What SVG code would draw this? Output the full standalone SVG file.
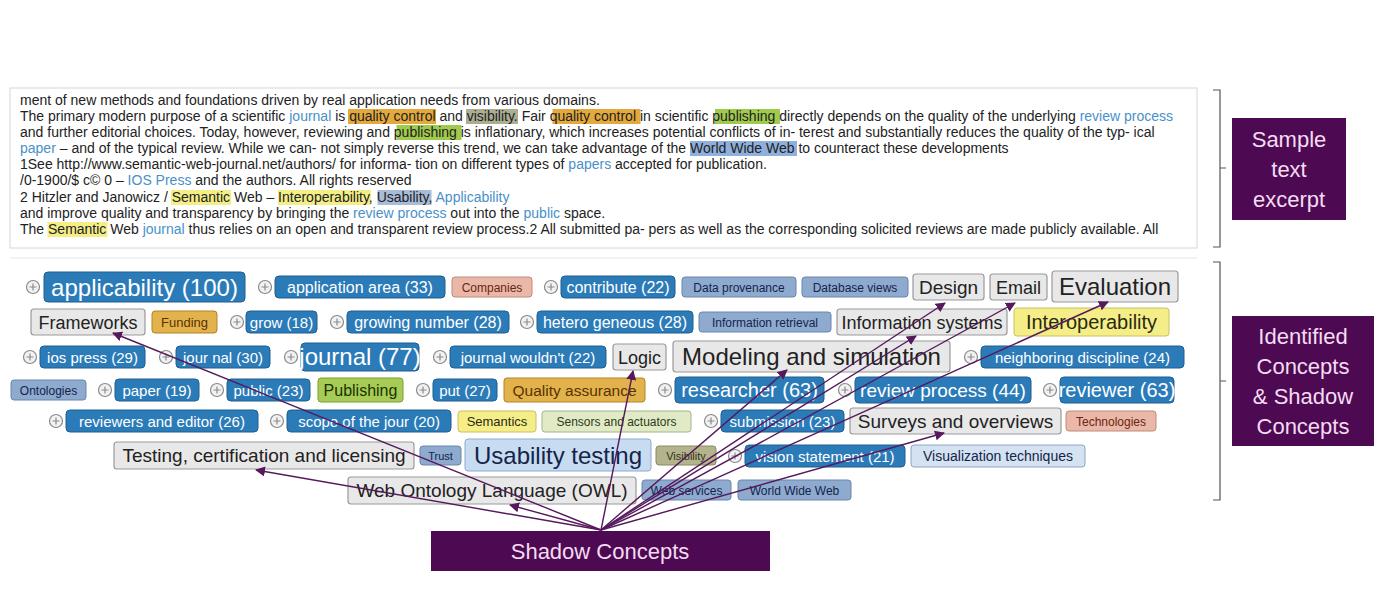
<svg xmlns="http://www.w3.org/2000/svg" xmlns:xlink="http://www.w3.org/1999/xlink" width="1390" height="600" viewBox="0 0 1390 600">
<style>
text{font-family:"Liberation Sans",Arial,sans-serif}
.ex{font-size:14px;fill:#222}
.lk{fill:#4a90c8}
.t{text-anchor:middle}
.blue rect{fill:#2b7bb9;stroke:#1f5f90;stroke-width:1}
.blue text{fill:#fff}
.gray rect{fill:#e8e8e8;stroke:#9a9a9a;stroke-width:1.2}
.gray text{fill:#222}
.bg rect{fill:#8eaacf;stroke:#6a86ae;stroke-width:1}
.bg text{fill:#14244a}
.sal rect{fill:#eab8a8;stroke:#c08a78}
.sal text{fill:#6a2412}
.gold rect{fill:#e2b24c;stroke:#b38324}
.gold text{fill:#5a3200}
.yel rect{fill:#f5ee88;stroke:#c9c060}
.yel text{fill:#2a2a10}
.grn rect{fill:#a7cc55;stroke:#7c9c32}
.grn text{fill:#1c3200}
.pgr rect{fill:#e0eac6;stroke:#a5b488}
.pgr text{fill:#303820}
.olv rect{fill:#b4b48c;stroke:#8a8a62}
.olv text{fill:#303020}
.lb rect{fill:#c8dcf1;stroke:#8eaad0}
.lb text{fill:#14244a}
.lb2 rect{fill:#d4e2f1;stroke:#8ea4c4}
.lb2 text{fill:#14244a}
.lab rect{fill:#4d0a52}
.lab text{fill:#f4dcf2;font-size:22px;text-anchor:middle}
.conn line{stroke:#55195c;stroke-width:1.4}
.br{fill:none;stroke:#555;stroke-width:1.2}
</style>
<defs>
<g id="plus"><circle r="6.5" fill="#f2f2f2" stroke="#8a8a8a" stroke-width="1.2"/><path d="M-3.5 0H3.5M0 -3.5V3.5" stroke="#8a8a8a" stroke-width="1.2"/></g>
<marker id="ah" viewBox="0 0 10 10" refX="9" refY="5" markerWidth="10" markerHeight="10" markerUnits="userSpaceOnUse" orient="auto"><path d="M0 0L10 5L0 10z" fill="#55195c"/></marker>
</defs>
<rect width="1390" height="600" fill="#fff"/>

<!-- excerpt panel -->
<g id="excerpt">
<rect x="10" y="88" width="1187" height="160" fill="#fff" stroke="#d6d6d6"/>
<line x1="10" y1="258" x2="1197" y2="258" stroke="#e6e6e6"/>
<rect x="348" y="109" width="88" height="15" fill="#e4a93c"/>
<rect x="466" y="109" width="52" height="15" fill="#abae93"/>
<rect x="552.5" y="109" width="88" height="15" fill="#e4a93c"/>
<rect x="715" y="109" width="65" height="15" fill="#9fca4c"/>
<rect x="396.5" y="125" width="65" height="15" fill="#9fca4c"/>
<rect x="690" y="141" width="107" height="15" fill="#8fb0dc"/>
<rect x="171" y="190" width="60" height="15" fill="#f4ee86"/>
<rect x="278" y="190" width="93" height="15" fill="#f4ee86"/>
<rect x="377.5" y="190" width="54" height="15" fill="#a8bcd8"/>
<rect x="47.5" y="222" width="60" height="15" fill="#f4ee86"/>
<text class="ex" x="20" y="104.5">ment of new methods and foundations driven by real application needs from various domains.</text>
<text class="ex" x="20" y="120.5">The primary modern purpose of a scientific <tspan class="lk">journal</tspan> is quality control and visibility. Fair quality control in scientific publishing directly depends on the quality of the underlying <tspan class="lk">review process</tspan></text>
<text class="ex" x="20" y="136.5">and further editorial choices. Today, however, reviewing and publishing is inflationary, which increases potential conflicts of in- terest and substantially reduces the quality of the typ- ical</text>
<text class="ex" x="20" y="152.5"><tspan class="lk">paper</tspan> – and of the typical review. While we can- not simply reverse this trend, we can take advantage of the World Wide Web to counteract these developments</text>
<text class="ex" x="20" y="168.5">1See http://www.semantic-web-journal.net/authors/ for informa- tion on different types of <tspan class="lk">papers</tspan> accepted for publication.</text>
<text class="ex" x="20" y="184.5">/0-1900/$ c© 0 – <tspan class="lk">IOS Press</tspan> and the authors. All rights reserved</text>
<text class="ex" x="20" y="201.5">2 Hitzler and Janowicz / Semantic Web – Interoperability, Usability, <tspan class="lk">Applicability</tspan></text>
<text class="ex" x="20" y="217.5">and improve quality and transparency by bringing the <tspan class="lk">review process</tspan> out into the <tspan class="lk">public</tspan> space.</text>
<text class="ex" x="20" y="233.5">The Semantic Web <tspan class="lk">journal</tspan> thus relies on an open and transparent review process.2 All submitted pa- pers as well as the corresponding solicited reviews are made publicly available. All</text>
</g>

<!-- Row 1 -->
<use href="#plus" x="33" y="287"/>
<g id="n-applicability" class="blue"><rect x="44" y="272" width="201" height="30" rx="4"/><text class="t" x="144.5" y="295.5" font-size="24">applicability (100)</text></g>
<use href="#plus" x="265" y="287"/>
<g id="n-application-area" class="blue"><rect x="275" y="276" width="170" height="22" rx="4"/><text class="t" x="360" y="293" font-size="16">application area (33)</text></g>
<g id="n-companies" class="sal"><rect x="452" y="277" width="80" height="20" rx="3"/><text class="t" x="492" y="291.5" font-size="12">Companies</text></g>
<use href="#plus" x="551" y="287"/>
<g id="n-contribute" class="blue"><rect x="561" y="276" width="114" height="22" rx="4"/><text class="t" x="618" y="293" font-size="16">contribute (22)</text></g>
<g id="n-data-provenance" class="bg"><rect x="682" y="277" width="114" height="20" rx="3"/><text class="t" x="739" y="291.5" font-size="12">Data provenance</text></g>
<g id="n-database-views" class="bg"><rect x="802" y="277" width="106" height="20" rx="3"/><text class="t" x="855" y="291.5" font-size="12">Database views</text></g>
<g id="n-design" class="gray"><rect x="913" y="274" width="71" height="26" rx="3"/><text class="t" x="948.5" y="294" font-size="19">Design</text></g>
<g id="n-email" class="gray"><rect x="990" y="274" width="57" height="26" rx="3"/><text class="t" x="1018.5" y="294" font-size="18">Email</text></g>
<g id="n-evaluation" class="gray"><rect x="1052" y="271" width="126" height="31" rx="3"/><text class="t" x="1115" y="295" font-size="24">Evaluation</text></g>

<!-- Row 2 -->
<g id="n-frameworks" class="gray"><rect x="31" y="309" width="114" height="26" rx="3"/><text class="t" x="88" y="328.5" font-size="18">Frameworks</text></g>
<g id="n-funding" class="gold"><rect x="152" y="311" width="65" height="22" rx="3"/><text class="t" x="184.5" y="326.5" font-size="13">Funding</text></g>
<use href="#plus" x="237" y="322"/>
<g id="n-grow" class="blue"><rect x="246" y="311" width="71" height="22" rx="4"/><text class="t" x="281.5" y="327.5" font-size="15">grow (18)</text></g>
<use href="#plus" x="337" y="322"/>
<g id="n-growing-number" class="blue"><rect x="347" y="311" width="162" height="22" rx="4"/><text class="t" x="428" y="327.5" font-size="16">growing number (28)</text></g>
<use href="#plus" x="527" y="322"/>
<g id="n-hetero-geneous" class="blue"><rect x="537" y="311" width="156" height="22" rx="4"/><text class="t" x="615" y="327.5" font-size="16">hetero geneous (28)</text></g>
<g id="n-information-retrieval" class="bg"><rect x="699" y="312" width="132" height="20" rx="3"/><text class="t" x="765" y="326.5" font-size="12">Information retrieval</text></g>
<g id="n-information-systems" class="gray"><rect x="837" y="309" width="170" height="26" rx="3"/><text class="t" x="922" y="328.5" font-size="18">Information systems</text></g>
<g id="n-interoperability" class="yel"><rect x="1014" y="308" width="155" height="28" rx="3"/><text class="t" x="1091.5" y="329" font-size="20">Interoperability</text></g>

<!-- Row 3 -->
<use href="#plus" x="30" y="357"/>
<g id="n-ios-press" class="blue"><rect x="40" y="346" width="105" height="22" rx="4"/><text class="t" x="92.5" y="362.5" font-size="15">ios press (29)</text></g>
<use href="#plus" x="166" y="357"/>
<g id="n-jour-nal" class="blue"><rect x="176" y="346" width="94" height="22" rx="4"/><text class="t" x="223" y="362.5" font-size="15">jour nal (30)</text></g>
<use href="#plus" x="291" y="357"/>
<g id="n-journal" class="blue"><rect x="301" y="343" width="118" height="28" rx="4"/><text class="t" x="360" y="365" font-size="24">journal (77)</text></g>
<use href="#plus" x="440" y="357"/>
<g id="n-journal-wouldnt" class="blue"><rect x="450" y="346" width="156" height="22" rx="4"/><text class="t" x="528" y="362.5" font-size="15">journal wouldn't (22)</text></g>
<g id="n-logic" class="gray"><rect x="613" y="344" width="53" height="26" rx="3"/><text class="t" x="639.5" y="363.5" font-size="18">Logic</text></g>
<g id="n-modeling" class="gray"><rect x="673" y="341" width="277" height="31" rx="3"/><text class="t" x="811.5" y="365" font-size="24">Modeling and simulation</text></g>
<use href="#plus" x="971" y="357"/>
<g id="n-neighboring" class="blue"><rect x="981" y="346" width="203" height="22" rx="4"/><text class="t" x="1082.5" y="362.5" font-size="15">neighboring discipline (24)</text></g>

<!-- Row 4 -->
<g id="n-ontologies" class="bg"><rect x="11" y="380" width="75" height="20" rx="3"/><text class="t" x="48.5" y="394.5" font-size="12">Ontologies</text></g>
<use href="#plus" x="105" y="390"/>
<g id="n-paper" class="blue"><rect x="115" y="379" width="84" height="22" rx="4"/><text class="t" x="157" y="395.5" font-size="15">paper (19)</text></g>
<use href="#plus" x="217" y="390"/>
<g id="n-public" class="blue"><rect x="227" y="379" width="83" height="22" rx="4"/><text class="t" x="268.5" y="395.5" font-size="15">public (23)</text></g>
<g id="n-publishing" class="grn"><rect x="318" y="378" width="85" height="24" rx="3"/><text class="t" x="360.5" y="395.5" font-size="16">Publishing</text></g>
<use href="#plus" x="423" y="390"/>
<g id="n-put" class="blue"><rect x="433" y="379" width="64" height="22" rx="4"/><text class="t" x="465" y="395.5" font-size="15">put (27)</text></g>
<g id="n-quality-assurance" class="gold"><rect x="504" y="378" width="141" height="24" rx="3"/><text class="t" x="574.5" y="395.5" font-size="15.5">Quality assurance</text></g>
<use href="#plus" x="665" y="390"/>
<g id="n-researcher" class="blue"><rect x="675" y="377" width="149" height="26" rx="4"/><text class="t" x="749.5" y="397" font-size="20">researcher (63)</text></g>
<use href="#plus" x="845" y="390"/>
<g id="n-review-process" class="blue"><rect x="855" y="377" width="176" height="26" rx="4"/><text class="t" x="943" y="397" font-size="19">review process (44)</text></g>
<use href="#plus" x="1050" y="390"/>
<g id="n-reviewer" class="blue"><rect x="1060" y="377" width="114" height="26" rx="4"/><text class="t" x="1117" y="397" font-size="20">reviewer (63)</text></g>

<!-- Row 5 -->
<use href="#plus" x="56" y="421"/>
<g id="n-reviewers-editor" class="blue"><rect x="66" y="410" width="192" height="22" rx="4"/><text class="t" x="162" y="426.5" font-size="15">reviewers and editor (26)</text></g>
<use href="#plus" x="277" y="421"/>
<g id="n-scope" class="blue"><rect x="287" y="410" width="164" height="22" rx="4"/><text class="t" x="369" y="426.5" font-size="15">scope of the jour (20)</text></g>
<g id="n-semantics" class="yel"><rect x="458" y="411" width="78" height="21" rx="3"/><text class="t" x="497" y="426" font-size="13">Semantics</text></g>
<g id="n-sensors" class="pgr"><rect x="542" y="411" width="149" height="21" rx="3"/><text class="t" x="616.5" y="425.5" font-size="12">Sensors and actuators</text></g>
<use href="#plus" x="711" y="421"/>
<g id="n-submission" class="blue"><rect x="721" y="410" width="123" height="22" rx="4"/><text class="t" x="782.5" y="426.5" font-size="15">submission (23)</text></g>
<g id="n-surveys" class="gray"><rect x="850" y="408" width="211" height="26" rx="3"/><text class="t" x="955.5" y="427.5" font-size="19">Surveys and overviews</text></g>
<g id="n-technologies" class="sal"><rect x="1066" y="411" width="90" height="20" rx="3"/><text class="t" x="1111" y="425.5" font-size="12">Technologies</text></g>

<!-- Row 6 -->
<g id="n-testing" class="gray"><rect x="114" y="442" width="300" height="27" rx="3"/><text class="t" x="264" y="462" font-size="19">Testing, certification and licensing</text></g>
<g id="n-trust" class="bg"><rect x="420" y="446" width="41" height="19" rx="3"/><text class="t" x="440.5" y="459.5" font-size="11">Trust</text></g>
<g id="n-usability-testing" class="lb"><rect x="465" y="439" width="186" height="32" rx="3"/><text class="t" x="558" y="463.5" font-size="24">Usability testing</text></g>
<g id="n-visibility" class="olv"><rect x="656" y="446" width="60" height="19" rx="3"/><text class="t" x="686" y="459.5" font-size="11">Visibility</text></g>
<use href="#plus" x="735" y="456"/>
<g id="n-vision-statement" class="blue"><rect x="745" y="445" width="160" height="22" rx="4"/><text class="t" x="825" y="461.5" font-size="15">vision statement (21)</text></g>
<g id="n-visualization" class="lb2"><rect x="911" y="445" width="174" height="22" rx="3"/><text class="t" x="998" y="460.5" font-size="14">Visualization techniques</text></g>

<!-- Row 7 -->
<g id="n-owl" class="gray"><rect x="348" y="477" width="288" height="27" rx="3"/><text class="t" x="492" y="497" font-size="19">Web Ontology Language (OWL)</text></g>
<g id="n-web-services" class="bg"><rect x="642" y="480" width="89" height="20" rx="3"/><text class="t" x="686.5" y="494.5" font-size="12">Web services</text></g>
<g id="n-www" class="bg"><rect x="738" y="480" width="113" height="20" rx="3"/><text class="t" x="794.5" y="494.5" font-size="12">World Wide Web</text></g>

<!-- connectors -->
<g id="connectors" class="conn">
<line x1="601" y1="530" x2="113" y2="333" marker-end="url(#ah)"/>
<line x1="601" y1="530" x2="945" y2="303" marker-end="url(#ah)"/>
<line x1="601" y1="530" x2="1015" y2="303" marker-end="url(#ah)"/>
<line x1="601" y1="530" x2="1108" y2="302" marker-end="url(#ah)"/>
<line x1="601" y1="530" x2="916" y2="336" marker-end="url(#ah)"/>
<line x1="601" y1="530" x2="787" y2="370" marker-end="url(#ah)"/>
<line x1="601" y1="530" x2="633" y2="371" marker-end="url(#ah)"/>
<line x1="601" y1="530" x2="944" y2="433" marker-end="url(#ah)"/>
<line x1="601" y1="530" x2="256" y2="470" marker-end="url(#ah)"/>
<line x1="601" y1="530" x2="510" y2="505" marker-end="url(#ah)"/>
</g>

<!-- brackets -->
<g id="brackets">
<path class="br" d="M1213 90H1220V247H1213M1220 168H1226"/>
<path class="br" d="M1213 262H1220V500H1213M1220 381H1226"/>
</g>

<g id="label-sample" class="lab"><rect x="1232" y="118" width="114" height="102"/><text x="1289" y="147">Sample</text><text x="1289" y="177">text</text><text x="1289" y="207">excerpt</text></g>
<g id="label-identified" class="lab"><rect x="1232" y="316" width="142" height="130"/><text x="1303" y="344">Identified</text><text x="1303" y="374">Concepts</text><text x="1303" y="404">&amp; Shadow</text><text x="1303" y="434">Concepts</text></g>
<g id="label-shadow" class="lab"><rect x="431" y="531" width="339" height="40"/><text x="600" y="559">Shadow Concepts</text></g>
</svg>
